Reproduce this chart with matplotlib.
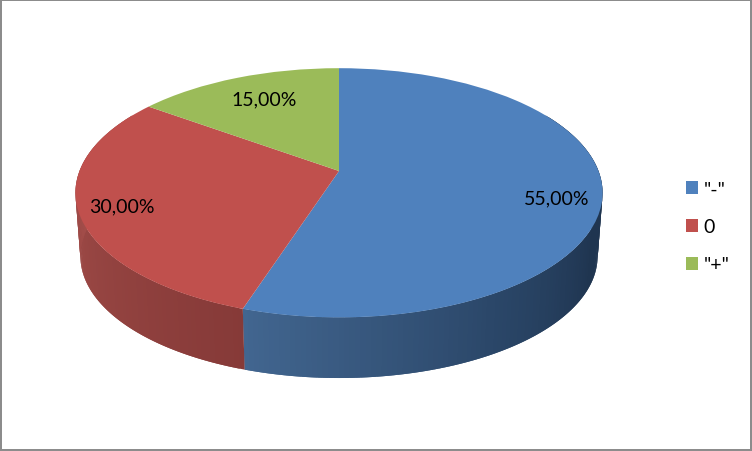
import matplotlib
matplotlib.use('Agg')
import matplotlib.pyplot as plt
import matplotlib.transforms as mtransforms
from matplotlib.collections import PolyCollection
import numpy as np

labels = ['"-"', '0', '"+"']
values = [55, 30, 15]
colors = ['#4f81bd', '#c0504d', '#9bbb59']
value_text_xy = [(557, 199), (122, 207), (264, 100)]

# wall shading: clockwise angle from the top -> colour
wall_stops = {
    0: ([60, 115, 150, 198], ['#1f3550', '#1f3550', '#2b4769', '#426690']),
    1: ([198, 300], ['#863a38', '#ad5450']),
}

# perspective of the pie, in pixels
cx = 339
top_cy, top_a, top_b = 172, 259.5, 120.8
bot_cy, bot_a, bot_b = 236, 254.6, 118.0
k = 0.175


class Persp(mtransforms.Transform):
    input_dims = 2
    output_dims = 2

    def __init__(self, cy, a, b):
        super().__init__()
        self.cy, self.a, self.b = cy, a, b

    def transform_non_affine(self, xy):
        xy = np.asarray(xy)
        w = 1 + k * xy[:, 1]
        return np.column_stack([cx + self.a * xy[:, 0] / w, self.cy - self.b * xy[:, 1] / w])


def rim(theta, cy, a, b):
    t = np.radians(theta)
    return Persp(cy, a, b).transform_non_affine(np.column_stack([np.sin(t), np.cos(t)]))


def hex2rgb(c):
    return np.array(matplotlib.colors.to_rgb(c))


plt.rcParams['font.family'] = ['Lato', 'DejaVu Sans']
fig = plt.figure(figsize=(7.52, 4.52), dpi=100)
ax = fig.add_axes([0, 0, 1, 1])

# side wall, thin strips that overlap the next one so no seams show
edges = np.cumsum([0] + values) * 3.6
for i in wall_stops:
    pos, cols = wall_stops[i]
    start = max(edges[i], pos[0])
    stop = min(edges[i + 1], pos[-1])
    th = np.arange(start, stop + 0.5, 1.0)
    th[-1] = stop
    upper = rim(th, top_cy, top_a, top_b)
    lower = rim(th, bot_cy, bot_a, bot_b)
    n = len(th) - 1
    polys = [[upper[j], upper[min(j + 2, n)], lower[min(j + 2, n)], lower[j]] for j in range(n)]
    rgb = np.array([hex2rgb(c) for c in cols])
    mid = (th[:-1] + th[1:]) / 2
    fc = np.column_stack([np.interp(mid, pos, rgb[:, m]) for m in range(3)])
    ax.add_collection(PolyCollection(polys, facecolors=fc, edgecolors='none', zorder=1))

# top face
wedges, _ = ax.pie(values, colors=colors, startangle=90, counterclock=False)
top_trans = Persp(top_cy, top_a, top_b) + ax.transData
for w in wedges:
    w.set_transform(top_trans)
    w.set_zorder(2)

ax.set_aspect('auto')
ax.set_xlim(0, 752)
ax.set_ylim(452, 0)
ax.axis('off')

for v, (x, y) in zip(values, value_text_xy):
    ax.text(x, y, f'{v:.2f}%'.replace('.', ','), ha='center', va='center', fontsize=14,
            color='black', zorder=3)

ax.legend(wedges, labels, loc='center left', bbox_to_anchor=(686, 228),
          bbox_transform=ax.transData, frameon=False, fontsize=14,
          handlelength=0.6, handleheight=0.6, handletextpad=0.3,
          labelspacing=1.08, borderpad=0, borderaxespad=0)

# chart frame
fig.patch.set_edgecolor('#8c8c8c')
fig.patch.set_linewidth(2.88)

fig.savefig('out.png', dpi=100)
